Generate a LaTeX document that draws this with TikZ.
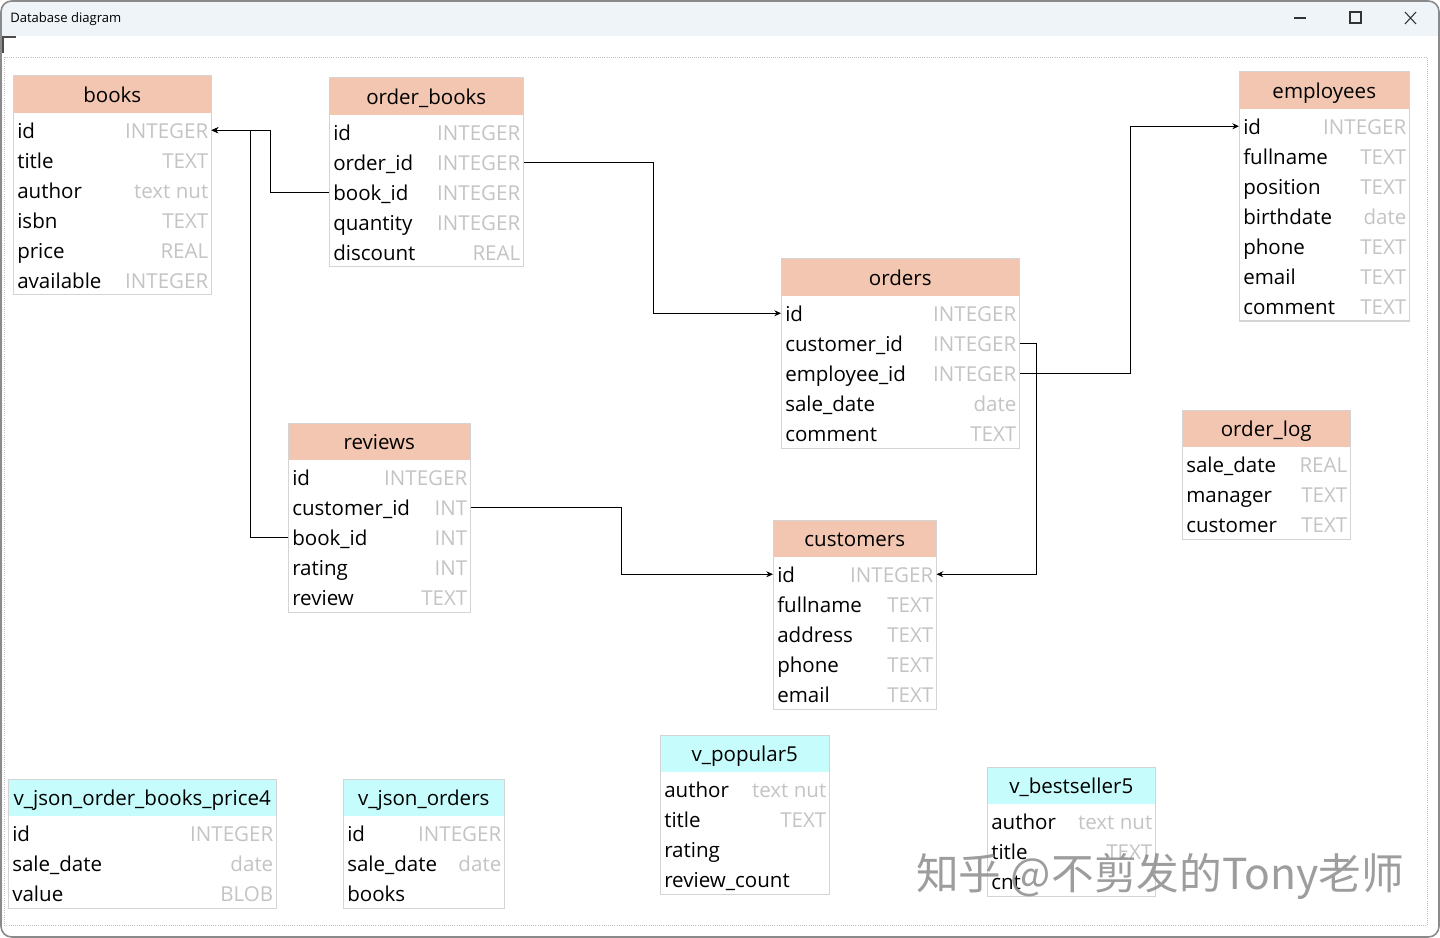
\documentclass[tikz,border=0pt]{standalone}
\usepackage{fontspec}
\setmainfont{Open Sans}
\newfontfamily\cjkf{Noto Sans CJK SC}
\usetikzlibrary{arrows.meta,calc}
\definecolor{salmon}{HTML}{F2C6B0}
\definecolor{cyanh}{HTML}{C6FCFC}
\definecolor{typegray}{HTML}{C4C4C4}
\definecolor{bordergray}{HTML}{D4D4D4}
\definecolor{titlebar}{HTML}{EEF4F8}
\definecolor{framegray}{HTML}{8A8A8A}
\tikzset{
  head/.style={fill=#1, inner sep=0pt, minimum height=37*0.75pt, text height=15.5pt, text depth=3.5pt, font=\fontsize{15.4}{18}\selectfont},
  rowbox/.style={inner sep=0pt, minimum height=30*0.75pt},
  fname/.style={inner sep=0pt, xshift=4*0.75pt, text height=15.5pt, text depth=3.5pt, font=\fontsize{15.4}{18}\selectfont},
  ftype/.style={inner sep=0pt, xshift=-3*0.75pt, text height=15.5pt, text depth=3.5pt, text=typegray, font=\fontsize{15.4}{18}\selectfont},
  tblborder/.style={draw=bordergray, line width=0.75pt},
  link/.style={draw=black, line width=0.75pt, -{Stealth[length=5pt,width=4.5pt]}},
  winbtn/.style={draw=black!80, line width=0.8pt},
}
% #1 name, #2 x, #3 y, #4 width, #5 rows count, #6 header colour, #7 title, #8 rows
\newcommand\dbtable[8]{%
  \node[head=#6, minimum width=#4*0.75pt, anchor=north west] (#1) at (#2,#3) {#7};
  \foreach \fn/\ft [count=\i] in {#8} {
    \node[rowbox, minimum width=#4*0.75pt, anchor=north west] (#1-\i) at (#2,#3+39+30*\i-30) {};
    \node[fname, anchor=west] (#1-\i-n) at (#1-\i.west) {\fn};
    \node[ftype, anchor=east] (#1-\i-t) at (#1-\i.east) {\ft};
  }
  \draw[tblborder] (#2,#3) rectangle (#2+#4,#3+39+30*#5);
}
\begin{document}
\begin{tikzpicture}[x=0.75pt,y=-0.75pt]
\useasboundingbox (0,0) rectangle (1440,938);
% window
\fill[white] (0,0) rectangle (1440,938);
\begin{scope}
  \clip[rounded corners=8] (1,1) rectangle (1439,937);
  \fill[titlebar] (0,0) rectangle (1440,36);
\end{scope}
\draw[framegray, line width=1.2pt, rounded corners=8] (1,1) rectangle (1439,937);
\node[anchor=west, inner sep=0pt, font=\fontsize{9.8}{12}\selectfont] (wtitle) at (10,19) {Database diagram};
\draw[winbtn] (1294,18) -- (1306,18);
\draw[winbtn] (1350,12) rectangle (1361,23);
\draw[winbtn] (1405,12) -- (1416,24) (1416,12) -- (1405,24);
\draw[black!70, line width=0.8pt] (3,53) -- (3,37) -- (16,37);
\draw[densely dotted, black!25, line width=0.6pt] (4,57) rectangle (1427,925);

% tables
\dbtable{books}{13}{76}{198}{6}{salmon}{books}{id/INTEGER, title/TEXT, author/text nut, isbn/TEXT, price/REAL, available/INTEGER}
\dbtable{obooks}{329}{78}{194}{5}{salmon}{order\_books}{id/INTEGER, order\_id/INTEGER, book\_id/INTEGER, quantity/INTEGER, discount/REAL}
\dbtable{emp}{1239}{72}{170}{7}{salmon}{employees}{id/INTEGER, fullname/TEXT, position/TEXT, birthdate/date, phone/TEXT, email/TEXT, comment/TEXT}
\dbtable{orders}{781}{259}{238}{5}{salmon}{orders}{id/INTEGER, customer\_id/INTEGER, employee\_id/INTEGER, sale\_date/date, comment/TEXT}
\dbtable{cust}{773}{520}{163}{5}{salmon}{customers}{id/INTEGER, fullname/TEXT, address/TEXT, phone/TEXT, email/TEXT}
\dbtable{reviews}{288}{423}{182}{5}{salmon}{reviews}{id/INTEGER, customer\_id/INT, book\_id/INT, rating/INT, review/TEXT}
\dbtable{olog}{1182}{410}{168}{3}{salmon}{order\_log}{sale\_date/REAL, manager/TEXT, customer/TEXT}
\dbtable{vjobp}{8}{779}{268}{3}{cyanh}{v\_json\_order\_books\_price4}{id/INTEGER, sale\_date/date, value/BLOB}
\dbtable{vjo}{343}{779}{161}{3}{cyanh}{v\_json\_orders}{id/INTEGER, sale\_date/date, books/{}}
\dbtable{vpop}{660}{735}{169}{4}{cyanh}{v\_popular5}{author/text nut, title/TEXT, rating/{}, review\_count/{}}
\dbtable{vbest}{987}{767}{168}{3}{cyanh}{v\_bestseller5}{author/text nut, title/TEXT, cnt/{}}

% connectors
\draw[link] (obooks-3.west) -- ++(-59,0) |- (books-1.east);
\draw[link] (reviews-3.west) -- ++(-38,0) |- (books-1.east);
\draw[link] (obooks-2.east) -- ++(130,0) |- (orders-1.west);
\draw[link] (orders-2.east) -- ++(17,0) |- (cust-1.east);
\draw[link] (orders-3.east) -- ++(111,0) |- (emp-1.west);
\draw[link] (reviews-2.east) -- ++(151,0) |- (cust-1.west);

% watermark
\node[font=\cjkf\fontsize{32}{36}\selectfont, text=black!45, opacity=0.85, inner sep=0pt] (wm) at (1160,876) {知乎 @不剪发的Tony老师};
\end{tikzpicture}
\end{document}
